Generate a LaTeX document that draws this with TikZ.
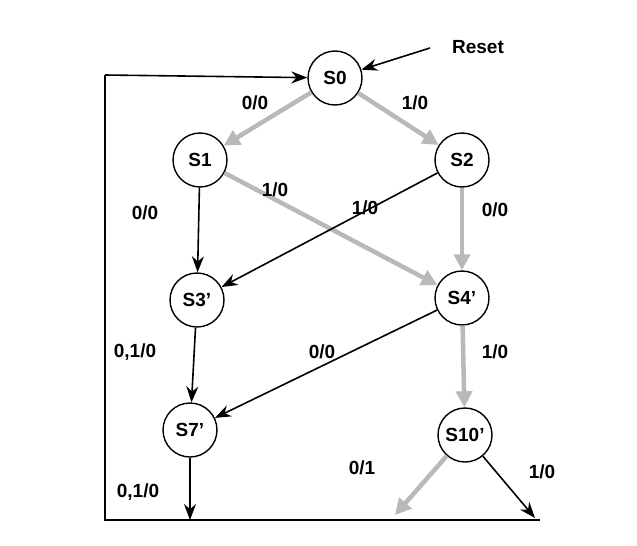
\documentclass[tikz,border=0pt]{standalone}
\usepackage{fontspec}
\setmainfont{Liberation Sans}
\usetikzlibrary{arrows.meta}
\begin{document}
\begin{tikzpicture}[x=1pt,y=-1pt,
 st/.style={circle,draw,line width=1.4pt,minimum size=54pt,inner sep=0pt,font=\fontsize{19}{19}\selectfont\bfseries,fill=white},
 lb/.style={font=\fontsize{19}{19}\selectfont\bfseries},
 bk/.style={line width=1.6pt,-{Stealth[length=16pt,width=12pt]}},
 gy/.style={line width=4.5pt,gray!55,-{Triangle[length=16pt,width=16pt]}}]
\useasboundingbox (0,0) rectangle (637,546);
\node[st] (s0) at (335,78) {S0};
\node[st] (s1) at (200,160) {S1};
\node[st] (s2) at (462,160) {S2};
\node[st] (s3) at (197,300) {S3'};
\node[st] (s4) at (462,298) {S4'};
\node[st] (s7) at (190,430) {S7'};
\node[st] (s10) at (465,435) {S10'};
\coordinate (bl) at (105,520);
\coordinate (br) at (540,520);
\coordinate (lt) at (105,75);
\coordinate (b7) at (190,520);
\coordinate (bg) at (395,515);
\coordinate (b10) at (535,518);
\coordinate (rs) at (430,48);
\node[lb] (reset) at (478,47) {Reset};
\draw[line width=1.6pt] (br) -- (bl) -- (lt);
\draw[bk] (lt) -- (s0);
\draw[bk] (rs) -- (s0);
\draw[gy] (s0) -- (s1);
\draw[gy] (s0) -- (s2);
\draw[gy] (s1) -- (s4);
\draw[gy] (s2) -- (s4);
\draw[gy] (s4) -- (s10);
\draw[gy] (s10) -- (bg);
\draw[bk] (s1) -- (s3);
\draw[bk] (s2) -- (s3);
\draw[bk] (s3) -- (s7);
\draw[bk] (s4) -- (s7);
\draw[bk] (s7) -- (b7);
\draw[bk] (s10) -- (b10);
\node[lb] (l1) at (255,103) {0/0};
\node[lb] (l2) at (415,103) {1/0};
\node[lb] (l3) at (145,213) {0/0};
\node[lb] (l4) at (275,190) {1/0};
\node[lb] (l5) at (365,208) {1/0};
\node[lb] (l6) at (495,210) {0/0};
\node[lb] (l7) at (135,352) {0,1/0};
\node[lb] (l8) at (322,352) {0/0};
\node[lb] (l9) at (495,352) {1/0};
\node[lb] (l10) at (362,468) {0/1};
\node[lb] (l11) at (542,472) {1/0};
\node[lb] (l12) at (138,492) {0,1/0};
\end{tikzpicture}
\end{document}
